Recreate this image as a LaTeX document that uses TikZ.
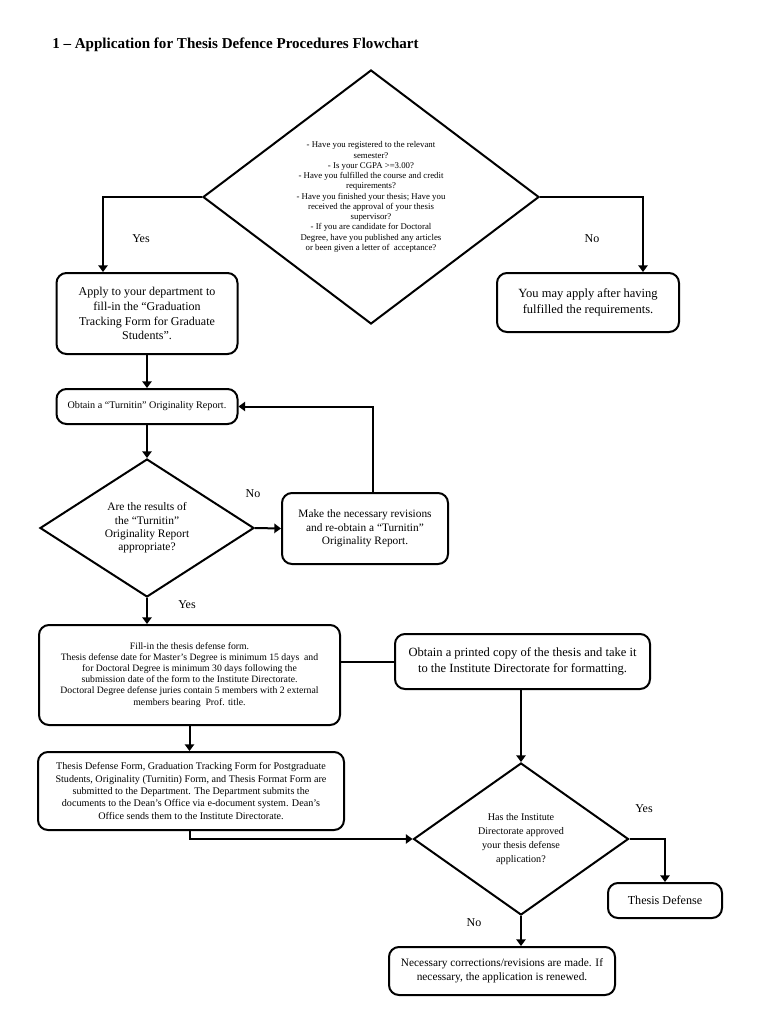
\documentclass[tikz,border=0pt]{standalone}
\usepackage{fontspec}
\setmainfont{Liberation Serif}
\usetikzlibrary{shapes.geometric,arrows.meta}

\tikzset{
    box/.style={draw,line width=1.5pt,rounded corners=7.5pt,align=center,inner sep=2pt},
    ask/.style={draw,diamond,line width=1.5pt,align=center,inner sep=0pt,aspect=1.4},
    arr/.style={line width=1.5pt,-{Triangle[length=5pt,width=7pt]}},
    line/.style={line width=1.5pt},
    tag/.style={font=\fontsize{9}{11}\selectfont}
}

\begin{document}
\begin{tikzpicture}[x=0.75pt,y=-0.75pt]
    \useasboundingbox (0,0) rectangle (768,1024);
    \node[anchor=base west,font=\bfseries\fontsize{11.3}{13}\selectfont,inner sep=0pt] (title) at (52,49)
        {1 – Application for Thesis Defence Procedures Flowchart};

    \node[ask,minimum width=252pt,minimum height=190.5pt,font=\fontsize{6.6}{7.7}\selectfont] (q1) at (371,197)
        {- Have you registered to the relevant\\semester?\\- Is your CGPA >=3.00?\\- Have you fulfilled the course and credit\\requirements?\\- Have you finished your thesis; Have you\\received the approval of your thesis\\supervisor?\\- If you are candidate for Doctoral\\Degree, have you published any articles\\or been given a letter of \ acceptance?};
    \node[box,minimum width=135.75pt,minimum height=60.75pt,font=\fontsize{9}{11.2}\selectfont] (apply) at (147,313.5)
        {Apply to your department to\\fill-in the “Graduation\\Tracking Form for Graduate\\Students”.};
    \node[box,minimum width=136.5pt,minimum height=44.25pt,font=\fontsize{9.4}{12.2}\selectfont] (later) at (588,302.5)
        {You may apply after having\\fulfilled the requirements.};
    \node[box,minimum width=135.75pt,minimum height=26.25pt,font=\fontsize{7.6}{9}\selectfont] (turnitin) at (147,406.5)
        {Obtain a “Turnitin” Originality Report.};
    \node[ask,minimum width=160.5pt,minimum height=103.5pt,font=\fontsize{8.6}{10}\selectfont] (q2) at (147,528)
        {Are the results of\\the “Turnitin”\\Originality Report\\appropriate?};
    \node[box,minimum width=124.5pt,minimum height=53.25pt,font=\fontsize{8.5}{10}\selectfont] (revise) at (365,528.5)
        {Make the necessary revisions\\and re-obtain a “Turnitin”\\Originality Report.};
    \node[box,minimum width=225.75pt,minimum height=75pt,font=\fontsize{7.3}{8.3}\selectfont] (fill) at (189.5,675)
        {Fill-in the thesis defense form.\\Thesis defense date for Master’s Degree is minimum 15 days \ and\\for Doctoral Degree is minimum 30 days following the\\submission date of the form to the Institute Directorate.\\Doctoral Degree defense juries contain 5 members with 2 external\\members bearing \ Prof. title.};
    \node[box,minimum width=229.5pt,minimum height=58.5pt,font=\fontsize{7.6}{9.2}\selectfont] (submit) at (191,791)
        {Thesis Defense Form, Graduation Tracking Form for Postgraduate\\Students, Originality (Turnitin) Form, and Thesis Format Form are\\submitted to the Department. The Department submits the\\documents to the Dean’s Office via e-document system. Dean’s\\Office sends them to the Institute Directorate.};
    \node[box,minimum width=191.25pt,minimum height=41.25pt,font=\fontsize{9.4}{12}\selectfont] (printed) at (522.5,661.5)
        {Obtain a printed copy of the thesis and take it\\to the Institute Directorate for formatting.};
    \node[ask,minimum width=161.25pt,minimum height=114pt,font=\fontsize{7.6}{10.5}\selectfont] (q3) at (521,839)
        {Has the Institute\\Directorate approved\\your thesis defense\\application?};
    \node[box,minimum width=85.5pt,minimum height=26.25pt,font=\fontsize{9.1}{11}\selectfont] (defense) at (665,900.5)
        {Thesis Defense};
    \node[box,minimum width=169.5pt,minimum height=36pt,font=\fontsize{8.5}{10.5}\selectfont] (correct) at (502,971)
        {Necessary corrections/revisions are made. If\\necessary, the application is renewed.};

    \coordinate (yesturn) at (103,197);
    \coordinate (noturn) at (643,197);
    \coordinate (loop) at (373,406.5);

    \draw[arr] (q1.west) -- (yesturn) -- (yesturn |- apply.north);
    \draw[arr] (q1.east) -- (noturn) -- (noturn |- later.north);
    \draw[arr] (apply.south) -- (turnitin.north);
    \draw[arr] (turnitin.south) -- (q2.north);
    \draw[arr] (q2.east) -- (revise.west);
    \draw[arr] (loop |- revise.north) -- (loop) -- (turnitin.east);
    \draw[arr] (q2.south) -- (q2.south |- fill.north);
    \draw[arr] (fill.south) -- (fill.south |- submit.north);
    \draw[line] (fill.east |- printed.west) -- (printed.west);
    \draw[arr] (printed.south -| q3.north) -- (q3.north);
    \draw[arr] (submit.south -| fill.south) |- (q3.west);
    \draw[arr] (q3.east) -| (defense.north);
    \draw[arr] (q3.south) -- (q3.south |- correct.north);

    \node[tag] (yes1) at (141,239) {Yes};
    \node[tag] (no1) at (592,239) {No};
    \node[tag] (no2) at (253,494) {No};
    \node[tag] (yes2) at (187,605) {Yes};
    \node[tag] (yes3) at (644,809) {Yes};
    \node[tag] (no3) at (474,923) {No};
\end{tikzpicture}
\end{document}
